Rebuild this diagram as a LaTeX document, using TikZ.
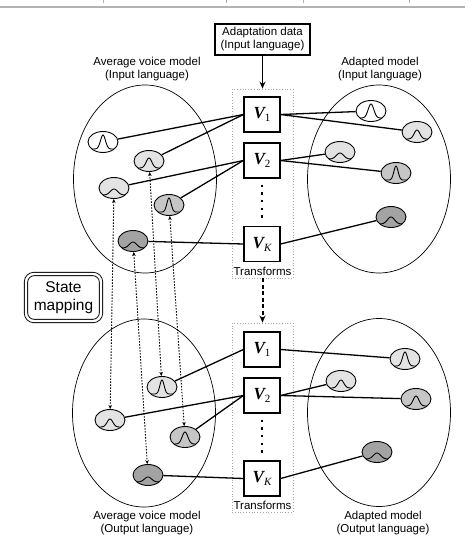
\documentclass[tikz,border=0pt]{standalone}
\usepackage{fontspec}
\setmainfont{Liberation Sans}
\newfontfamily\vfont{Liberation Serif}
\usetikzlibrary{shapes.geometric,arrows.meta}
\newcommand\gnode[6]{\node[gauss,#4,path picture={\draw[line width=0.9,shift={(path picture bounding box.center)}] plot[domain=-15:15,samples=50,smooth] (\x,{7-#5*exp(-(\x*\x)/(#6*#6))});}] (#1) at (#2,#3) {};}
\newcommand\vlab[1]{{\vfont\bfseries\itshape V}\raisebox{-3pt}{\vfont\fontsize{11}{11}\selectfont #1}}
\begin{document}
\begin{tikzpicture}[x=1pt,y=-1pt,
  lbl/.style={font=\fontsize{11.5}{13}\selectfont, align=center, inner sep=0},
  vbox/.style={draw, fill=white, line width=1.2, minimum width=36, minimum height=35, inner sep=0, font=\fontsize{17}{17}\selectfont},
  tbox/.style={draw=gray!70, dotted, line width=0.8, minimum width=61, minimum height=189, inner sep=0},
  model/.style={draw, ellipse, line width=0.7, minimum width=143, minimum height=188, inner sep=0},
  gauss/.style={draw, ellipse, line width=0.9, minimum width=30, minimum height=21, inner sep=0},
  wht/.style={fill=white}, lt/.style={fill=gray!22}, md/.style={fill=gray!45}, dk/.style={fill=gray!72},
  conn/.style={line width=1.3},
  vdots/.style={line width=2.4, dash pattern=on 2.4pt off 5.3pt},
  map/.style={line width=0.9, dash pattern=on 1.5pt off 1.5pt, {Stealth[length=4pt,width=3.5pt]}-{Stealth[length=4pt,width=3.5pt]}}
]
\useasboundingbox (0,0) rectangle (474,536);
% top rule
\draw[gray!60, line width=2] (0,6.5) -- (465,6.5);
\foreach \t in {103,226,303,409} \draw[gray!60, line width=0.6] (\t,0) -- (\t,2.5);

% model ellipses
\node[model] (e1) at (145,179) {};
\node[model] (e2) at (379,179) {};
\node[model] (e3) at (144,413) {};
\node[model] (e4) at (379,412.5) {};

% labels
\node[lbl] (la1) at (147,69.5) {Average voice model\\(Input language)};
\node[lbl] (la2) at (380,69.5) {Adapted model\\(Input language)};
\node[lbl] (la3) at (147,523) {Average voice model\\(Output language)};
\node[lbl] (la4) at (383,523) {Adapted model\\(Output language)};

% adaptation data
\node[draw, line width=1.2, minimum width=95, minimum height=31, inner sep=0, align=center, font=\fontsize{11.5}{13}\selectfont] (ad) at (262.5,39.5) {Adaptation data\\(Input language)};

% transform boxes
\node[tbox] (T1) at (262.5,183.5) {};
\node[tbox] (T2) at (262.5,417.5) {};
\node[lbl] (T1l) at (262.5,271) {Transforms};
\node[lbl] (T2l) at (262.5,505) {Transforms};

\node[vbox] (u1) at (262,114.5) {\vlab{1}};
\node[vbox] (u2) at (262,160.5) {\vlab{2}};
\node[vbox] (uK) at (262,244) {\vlab{\itshape K}};
\node[vbox] (l1) at (262,349.5) {\vlab{1}};
\node[vbox] (l2) at (262,395.5) {\vlab{2}};
\node[vbox] (lK) at (262,478.5) {\vlab{\itshape K}};

\draw[vdots] ([yshift=-6pt]u2.south) -- ([yshift=4pt]uK.north);
\draw[vdots] ([yshift=-6pt]l2.south) -- ([yshift=4pt]lK.north);

\draw[line width=1.6, -{Stealth[length=7pt,width=6pt]}] (ad) -- (T1);
\draw[line width=2, dash pattern=on 4pt off 2.5pt, -{Stealth[length=7pt,width=6pt]}] (T1) -- (T2);

% state mapping
\node[draw, double, double distance=2.4pt, line width=0.9, rounded corners=8pt, minimum width=75, minimum height=47, align=center, inner sep=0, font=\fontsize{15.5}{18}\selectfont] (sm) at (63.5,297.5) {State\\mapping};

% gaussians upper left
\gnode{g1}{103}{142}{wht}{14}{3.5}
\gnode{g2}{149}{161}{lt}{10}{4}
\gnode{g3}{114}{188}{lt}{6}{5}
\gnode{g4}{169}{205}{md}{14}{3}
\gnode{g5}{133}{241}{dk}{6}{5}
% upper right
\gnode{r1}{371}{111}{wht}{14}{4}
\gnode{r2}{417}{132}{lt}{9}{4}
\gnode{r3}{340}{152}{lt}{6}{5}
\gnode{r4}{396}{173}{md}{14}{3}
\gnode{r5}{391}{217}{dk}{7}{5}
% lower left
\gnode{h1}{162}{387}{lt}{14}{3}
\gnode{h2}{110}{420}{lt}{8}{4}
\gnode{h3}{185}{437}{md}{12}{4}
\gnode{h4}{148}{475}{dk}{5}{5}
% lower right
\gnode{s1}{405}{359}{lt}{14}{3.5}
\gnode{s2}{341}{381}{lt}{8}{4}
\gnode{s3}{416}{399}{md}{10}{4}
\gnode{s4}{377}{452}{dk}{6}{5}

% connections
\draw[conn] (g1) -- (u1.west);
\draw[conn] (g2) -- (u1.west);
\draw[conn] (g3) -- (u2.west);
\draw[conn] (g4) -- (u2.west);
\draw[conn] (g5) -- (uK.west);
\draw[conn] (u1.east) -- (r1);
\draw[conn] (u1.east) -- (r2);
\draw[conn] (u2.east) -- (r3);
\draw[conn] (u2.east) -- (r4);
\draw[conn] (uK.east) -- (r5);
\draw[conn] (h1) -- (l1.west);
\draw[conn] (h2) -- (l2.west);
\draw[conn] (h3) -- (l2.west);
\draw[conn] (h4) -- (lK.west);
\draw[conn] (l1.east) -- (s1);
\draw[conn] (l2.east) -- (s2);
\draw[conn] (l2.east) -- (s3);
\draw[conn] (lK.east) -- (s4);

% state mapping arrows
\draw[map] (g3) -- (h2);
\draw[map] (g5) -- (h4);
\draw[map] (g2) -- (h1);
\draw[map] (g4) -- (h3);
\end{tikzpicture}
\end{document}
